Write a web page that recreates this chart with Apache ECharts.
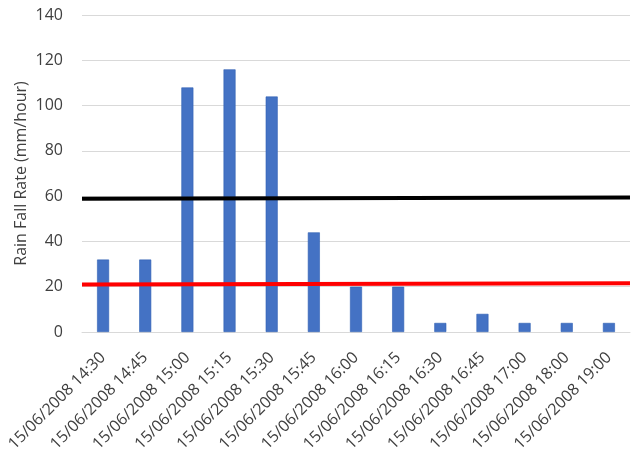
<!DOCTYPE html>
<html><head><meta charset="utf-8">
<script src="https://cdn.jsdelivr.net/npm/echarts@6/dist/echarts.min.js"></script>
<style>html,body{margin:0;padding:0;background:#fff}#c{width:640px;height:464px}</style>
</head><body><div id="c"></div>
<script>
const categories = ["15/06/2008 14:30","15/06/2008 14:45","15/06/2008 15:00","15/06/2008 15:15","15/06/2008 15:30","15/06/2008 15:45","15/06/2008 16:00","15/06/2008 16:15","15/06/2008 16:30","15/06/2008 16:45","15/06/2008 17:00","15/06/2008 18:00","15/06/2008 19:00"];
const rainRate = [32, 32, 108, 116, 104, 44, 20, 20, 4, 8, 4, 4, 4];
const blackLine = [58.8, 59.4];
const redLine = [21.0, 21.5];
const yTicks = [0, 20, 40, 60, 80, 100, 120, 140];

const font = '"Open Sans", "Liberation Sans", sans-serif';
const chart = echarts.init(document.getElementById('c'), null, {renderer: 'canvas'});
chart.setOption({
  animation: false,
  grid: {left: 82, right: 10, top: 15, bottom: 132, containLabel: false, outerBoundsMode: 'none'},
  xAxis: [{
    type: 'category', data: categories,
    axisLine: {show: true, lineStyle: {color: '#d9d9d9', width: 1}},
    axisTick: {show: false},
    axisLabel: {rotate: 45, color: '#404040', fontSize: 16, fontFamily: font, margin: 23, interval: 0}
  }, {
    type: 'value', min: 0, max: 1, show: false
  }],
  yAxis: {
    type: 'value', min: yTicks[0], max: yTicks[yTicks.length - 1], interval: 20,
    name: 'Rain Fall Rate (mm/hour)', nameLocation: 'middle', nameGap: 53, nameMoveOverlap: false,
    nameTextStyle: {color: '#404040', fontSize: 16, fontFamily: font},
    axisLine: {show: false}, axisTick: {show: false},
    axisLabel: {color: '#404040', fontSize: 16, fontFamily: font, margin: 19},
    splitLine: {lineStyle: {color: '#d9d9d9', width: 1}}
  },
  series: [{
    type: 'bar', data: rainRate, barWidth: 12, xAxisIndex: 0,
    itemStyle: {color: '#4472C4', borderColor: '#2f5fb3', borderWidth: 0.6}
  }, {
    type: 'line', xAxisIndex: 1, data: [[0, blackLine[0]], [1, blackLine[1]]],
    symbol: 'none', lineStyle: {color: '#000', width: 4}, clip: false
  }, {
    type: 'line', xAxisIndex: 1, data: [[0, redLine[0]], [1, redLine[1]]],
    symbol: 'none', lineStyle: {color: '#ff0000', width: 4}, clip: false
  }]
});
</script></body></html>
